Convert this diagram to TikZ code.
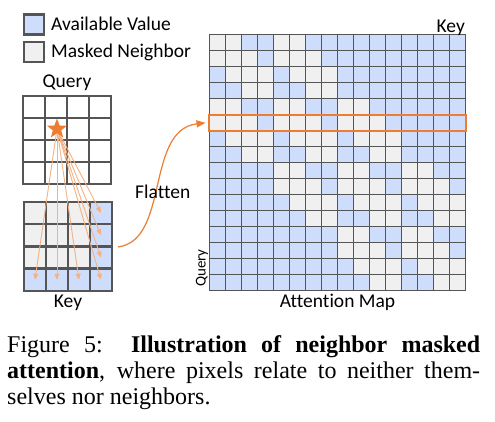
\documentclass[tikz,border=0pt]{standalone}
\usepackage{fontspec}
\setmainfont{Carlito}[Ligatures=NoCommon]
\newfontfamily\capfont{Liberation Serif}
\usetikzlibrary{shapes.geometric, arrows.meta, positioning}

\definecolor{availblue}{RGB}{207,221,252}
\definecolor{maskgray}{RGB}{240,240,240}
\definecolor{gridline}{RGB}{85,85,85}
\definecolor{accent}{RGB}{237,125,49}
\definecolor{raycolor}{RGB}{244,177,131}

\begin{document}
\begin{tikzpicture}[
        x=1pt, y=-1pt,
        font=\fontsize{19.5}{22}\selectfont,
        cell/.style={
            rectangle,
            draw=gridline,
            line width=2.5pt,
            minimum size=22pt,
            inner sep=0pt,
            fill=white
        },
        mapcell/.style={
            rectangle,
            draw=gridline,
            line width=1.6pt,
            minimum size=16pt,
            inner sep=0pt
        },
        ray/.style={
            -{Triangle[length=6pt, width=5pt]},
            line width=0.9pt,
            raycolor
        },
        flow/.style={
            -{Triangle[length=9pt, width=7pt]},
            line width=1.2pt,
            accent
        },
        label/.style={inner sep=0pt}
    ]
        \useasboundingbox (0,0) rectangle (495,421);

        % Legend
        \node[cell, fill=availblue, minimum size=20pt] (legAvail) at (34,24.5) {};
        \node[cell, fill=maskgray, minimum size=20pt] (legMask) at (34,52) {};
        \node[label, anchor=base west] (legAvailText) at (51,30.5) {Available Value};
        \node[label, anchor=base west] (legMaskText) at (51,57.5) {Masked Neighbor};

        % Query grid
        \node[label, anchor=base] (queryTitle) at (67,87.5) {Query};
        \foreach \r in {0,...,3}{
            \foreach \c in {0,...,3}{
                \node[cell] (q-\r-\c) at (34+22*\c, 107+22*\r) {};
            }
        }
        \node[star, star points=5, star point ratio=2.4, fill=accent,
              minimum size=21pt, inner sep=0pt] (star) at (57,129) {};

        % Key grid
        \foreach \r in {0,...,3}{
            \foreach \c in {0,...,3}{
                \pgfmathtruncatemacro{\open}{or(\r==3,\c==3)}
                \ifnum\open=1 \def\cellfill{availblue}\else\def\cellfill{maskgray}\fi
                \node[cell, fill=\cellfill, minimum height=22.25pt] (k-\r-\c) at (35+22*\c, 213+22.25*\r) {};
            }
        }
        \node[label, anchor=base] (keyTitle) at (68,307) {Key};

        % Rays
        \foreach \r/\c in {3/0, 3/1, 3/2, 3/3, 0/3, 1/3, 2/3}{
            \draw[ray] (star) -- (k-\r-\c.center);
        }

        % Attention map
        \foreach \i in {0,...,15}{
            \foreach \j in {0,...,15}{
                \pgfmathtruncatemacro{\dr}{abs(div(\i,4)-div(\j,4))}
                \pgfmathtruncatemacro{\dc}{abs(mod(\i,4)-mod(\j,4))}
                \pgfmathtruncatemacro{\near}{and(\dr<2,\dc<2)}
                \ifnum\near=1 \def\cellfill{maskgray}\else\def\cellfill{availblue}\fi
                \node[mapcell, fill=\cellfill] (m-\i-\j) at (217.5+16*\j, 42.5+16*\i) {};
            }
        }
        \node[draw=accent, line width=2pt, minimum width=257pt, minimum height=16pt,
              inner sep=0pt] (rowbox) at (337.5,122.5) {};
        \node[label, anchor=base east] (mapKey) at (465,32.5) {Key};
        \node[label, anchor=base west, rotate=90, font=\fontsize{15}{18}\selectfont] (mapQuery) at (205.5,287) {Query};
        \node[label, anchor=base] (mapTitle) at (337.5,307.5) {Attention Map};

        % Flatten
        \coordinate (flatStart) at (118,247);
        \draw[flow, shorten >=2.5pt] (flatStart) .. controls (170,240) and (145,130) .. (rowbox.west);
        \node[label, anchor=base west] (flatText) at (135,198) {Flatten};

        % Caption
        \node[label, anchor=north west, text width=473pt, align=justify,
              font=\capfont\fontsize{24}{26}\selectfont] (caption) at (7,335)
            {Figure 5:\ \ \textbf{Illustration of neighbor masked}\linebreak
             \textbf{attention}, where pixels relate to neither them-\linebreak
             selves nor neighbors.};
    \end{tikzpicture}
\end{document}
